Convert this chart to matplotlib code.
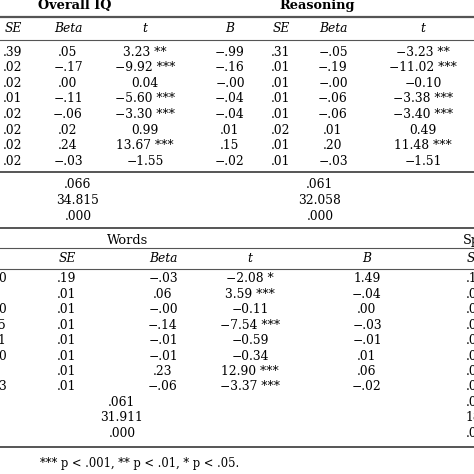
import matplotlib.pyplot as plt

plt.rcParams['font.family'] = ['DejaVu Serif']

# top table (Overall IQ | Reasoning)
top_titles = ["Overall IQ", "Reasoning"]
top_headers = ["SE", "Beta", "t", "B", "SE", "Beta", "t"]
iq_se = [".39", ".02", ".02", ".01", ".02", ".02", ".02", ".02"]
iq_beta = [".05", "−.17", ".00", "−.11", "−.06", ".02", ".24", "−.03"]
iq_t = ["3.23 **", "−9.92 ***", "0.04", "−5.60 ***", "−3.30 ***", "0.99", "13.67 ***", "−1.55"]
rs_b = ["−.99", "−.16", "−.00", "−.04", "−.04", ".01", ".15", "−.02"]
rs_se = [".31", ".01", ".01", ".01", ".01", ".02", ".01", ".01"]
rs_beta = ["−.05", "−.19", "−.00", "−.06", "−.06", ".01", ".20", "−.03"]
rs_t = ["−3.23 **", "−11.02 ***", "−0.10", "−3.38 ***", "−3.40 ***", "0.49", "11.48 ***", "−1.51"]
iq_stats = [".066", "34.815", ".000"]
rs_stats = [".061", "32.058", ".000"]

# bottom table (Words | Sp...)
bot_headers = ["SE", "Beta", "t", "B", "S"]
wd_prev = ["0", "", "0", "5", "1", "0", "", "3"]
wd_se = [".19", ".01", ".01", ".01", ".01", ".01", ".01", ".01"]
wd_beta = ["−.03", ".06", "−.00", "−.14", "−.01", "−.01", ".23", "−.06"]
wd_t = ["−2.08 *", "3.59 ***", "−0.11", "−7.54 ***", "−0.59", "−0.34", "12.90 ***", "−3.37 ***"]
sp_b = ["1.49", "−.04", ".00", "−.03", "−.01", ".01", ".06", "−.02"]
sp_se = [".1", ".0", ".0", ".0", ".0", ".0", ".0", ".0"]
wd_stats = [".061", "31.911", ".000"]
sp_stats = [".0", "18", ".0"]
footnote = "*** p < .001, ** p < .01, * p < .05."

fig = plt.figure(figsize=(4.74, 4.74), dpi=100)
ax = fig.add_axes([0, 0, 1, 1])
ax.set_xlim(0, 474)
ax.set_ylim(474, 0)
ax.axis('off')
fs = 8.8


def hline(y, lw=1.0):
    ax.plot([0, 474], [y, y], color='#555555', lw=lw)


def col(x, y0, dy, vals, ha='center'):
    for i, v in enumerate(vals):
        ax.text(x, y0 + i * dy, v, ha=ha, va='center', fontsize=fs)


# top part
ax.text(75, 5, top_titles[0], ha='center', va='center', fontsize=fs + 0.5, weight='bold')
ax.text(317, 5, top_titles[1], ha='center', va='center', fontsize=fs + 0.5, weight='bold')
hline(17, 1.6)
for x, h in zip([13, 68, 145, 230, 281, 333, 423], top_headers):
    ax.text(x, 28, h, ha='center', va='center', fontsize=fs, style='italic')
hline(40, 0.8)
for x, vals in zip([13, 68, 145, 230, 281, 333, 423],
                   [iq_se, iq_beta, iq_t, rs_b, rs_se, rs_beta, rs_t]):
    col(x, 52, 15.6, vals)
hline(172, 1.4)
col(78, 185, 16, iq_stats)
col(320, 185, 16, rs_stats)
hline(228, 1.4)

# bottom part
ax.text(128, 240, "Words", ha='center', va='center', fontsize=fs + 0.5)
ax.text(463, 240, "Sp", ha='left', va='center', fontsize=fs + 0.5)
hline(248, 0.8)
for x, h in zip([67, 163, 250, 367], bot_headers[:4]):
    ax.text(x, 258, h, ha='center', va='center', fontsize=fs, style='italic')
ax.text(467, 258, bot_headers[4], ha='left', va='center', fontsize=fs, style='italic')
hline(269, 0.8)
col(-2, 279, 15.4, wd_prev, ha='left')
for x, vals in zip([67, 163, 250, 367], [wd_se, wd_beta, wd_t, sp_b]):
    col(x, 279, 15.4, vals)
col(466, 279, 15.4, sp_se, ha='left')
col(122, 402, 15.7, wd_stats)
col(466, 402, 15.7, sp_stats, ha='left')
hline(447, 1.4)
ax.text(40, 463, footnote, ha='left', va='center', fontsize=fs - 0.5)

fig.savefig("out.png", dpi=100)
